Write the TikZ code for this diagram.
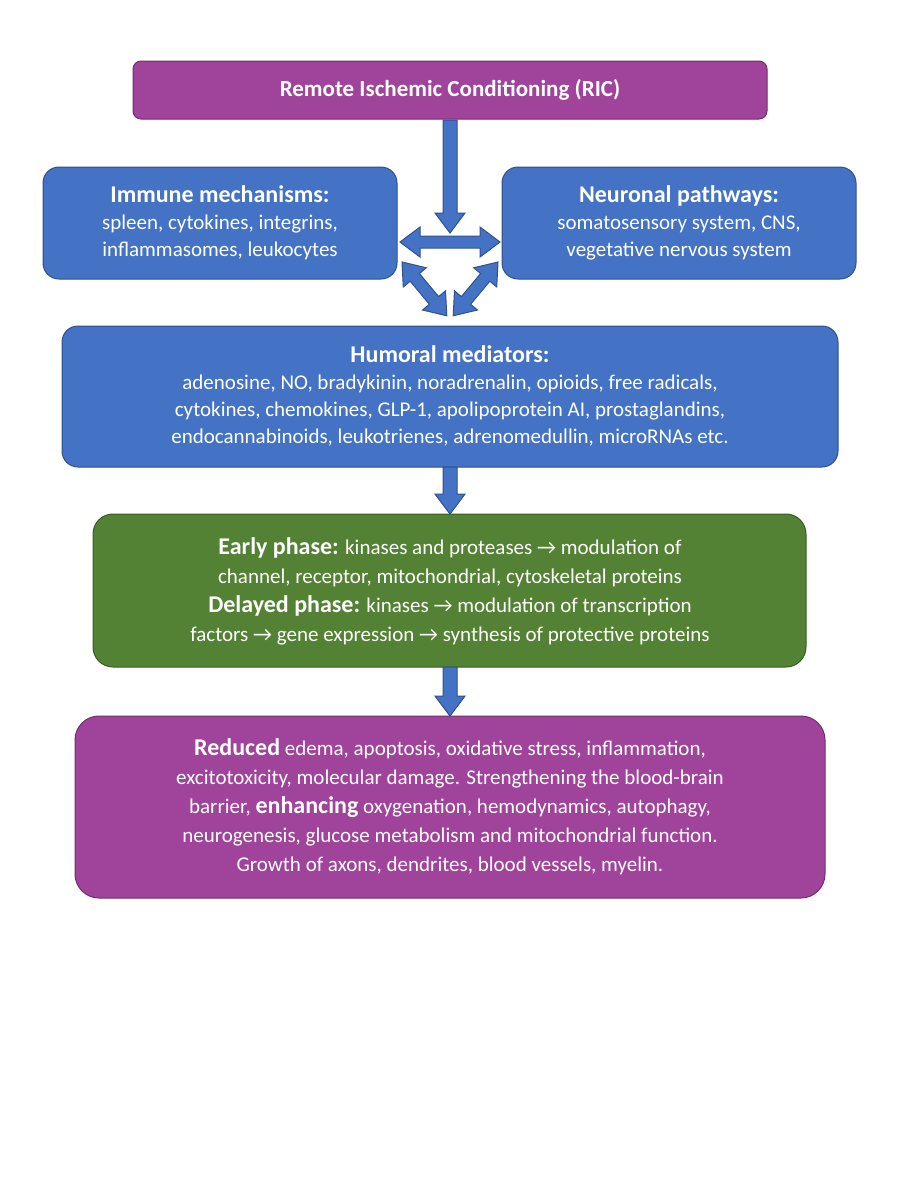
\documentclass[tikz,border=0pt]{standalone}
\usepackage{fontspec}
\setmainfont{Carlito}
\definecolor{ricpurple}{RGB}{160,67,155}
\definecolor{ricblue}{RGB}{68,114,196}
\definecolor{ricgreen}{RGB}{84,130,53}
\definecolor{edgeblue}{RGB}{47,82,143}
\newcommand\sarrow[3]{\begin{scope}[shift={#1},rotate=#2]
\draw[blk] (0,7)--({#3-20},7)--({#3-20},15)--(#3,0)--({#3-20},-15)--({#3-20},-7)--(0,-7)--cycle;\end{scope}}
\newcommand\darrow[3]{\begin{scope}[shift={#1},rotate=#2]
\draw[blk] (0,0)--(20,15)--(20,6)--({#3-20},6)--({#3-20},15)--(#3,0)--({#3-20},-15)--({#3-20},-6)--(20,-6)--(20,-15)--cycle;\end{scope}}
\begin{document}
\begin{tikzpicture}[x=1pt,y=-1pt,
  box/.style={draw=#1!70!black,line width=1pt,fill=#1,rounded corners=16pt,text=white,align=center,font=\fontsize{21}{27}\selectfont},
  blk/.style={fill=ricblue,draw=edgeblue,line width=1pt,line join=miter}]
\useasboundingbox (0,0) rectangle (900,1200);
\draw[box=ricpurple,rounded corners=8pt] (133,61) rectangle (767,119);
\node[text=white,font=\fontsize{23}{27}\selectfont\bfseries] (ric) at (450,90) {Remote Ischemic Conditioning (RIC)};
\draw[box=ricblue] (43,167) rectangle (397,279);
\node[text=white,align=center,font=\fontsize{21}{27}\selectfont] (imm) at (220,223) {{\fontsize{24}{30}\selectfont\bfseries Immune mechanisms:}\\spleen, cytokines, integrins,\\inflammasomes, leukocytes};
\draw[box=ricblue] (502,167) rectangle (856,279);
\node[text=white,align=center,font=\fontsize{21}{27}\selectfont] (neu) at (679,223) {{\fontsize{24}{30}\selectfont\bfseries Neuronal pathways:}\\somatosensory system, CNS,\\vegetative nervous system};
\draw[box=ricblue] (62,326) rectangle (838,467);
\node[text=white,align=center,font=\fontsize{21}{27}\selectfont] (hum) at (450,396) {{\fontsize{24}{30}\selectfont\bfseries Humoral mediators:}\\adenosine, NO, bradykinin, noradrenalin, opioids, free radicals,\\cytokines, chemokines, GLP-1, apolipoprotein AI, prostaglandins,\\endocannabinoids, leukotrienes, adrenomedullin, microRNAs etc.};
\draw[box=ricgreen,rounded corners=20pt] (93,514) rectangle (806,667);
\node[text=white,align=center,font=\fontsize{21}{29}\selectfont] (phase) at (450,591) {{\fontsize{24}{29}\selectfont\bfseries Early phase:} kinases and proteases → modulation of\\channel, receptor, mitochondrial, cytoskeletal proteins\\{\fontsize{24}{29}\selectfont\bfseries Delayed phase:} kinases → modulation of transcription\\factors → gene expression → synthesis of protective proteins};
\draw[box=ricpurple,rounded corners=24pt] (75,716) rectangle (825,898);
\node[text=white,align=center,font=\fontsize{21}{29}\selectfont] (res) at (450,807) {{\fontsize{24}{29}\selectfont\bfseries Reduced} edema, apoptosis, oxidative stress, inflammation,\\excitotoxicity, molecular damage. Strengthening the blood-brain\\barrier, {\fontsize{24}{29}\selectfont\bfseries enhancing} oxygenation, hemodynamics, autophagy,\\neurogenesis, glucose metabolism and mitochondrial function.\\Growth of axons, dendrites, blood vessels, myelin.};
\sarrow{(450,120)}{-90}{113}
\darrow{(400,242)}{0}{100}
\darrow{(402,262)}{-50.2}{70}
\darrow{(498,262)}{-129.8}{70}
\sarrow{(450,467)}{-90}{47}
\sarrow{(450,667)}{-90}{49}
\end{tikzpicture}
\end{document}
